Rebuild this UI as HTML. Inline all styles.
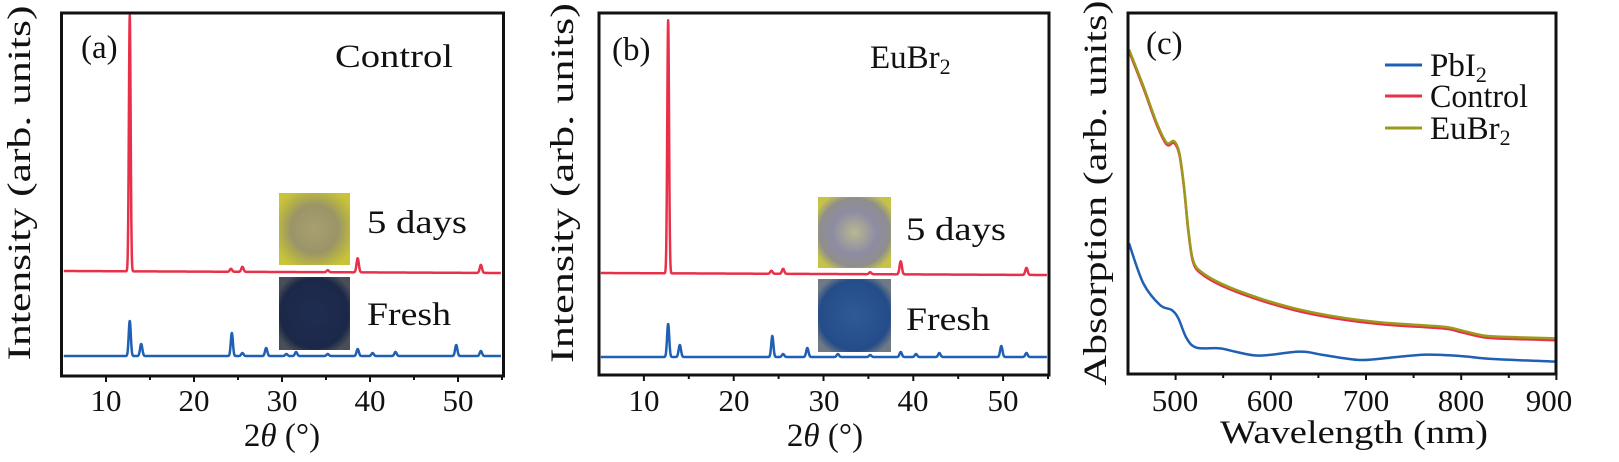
<!DOCTYPE html>
<html><head><meta charset="utf-8"><style>
html,body{margin:0;padding:0;background:#fff;}
svg{display:block;font-family:"Liberation Serif",serif;}
</style></head><body>
<svg id="s" width="1619" height="462" viewBox="0 0 1619 462" xmlns="http://www.w3.org/2000/svg">
<defs>
<radialGradient id="ga1" cx="0.5" cy="0.5" r="0.6"><stop offset="0" stop-color="#a8a070"/><stop offset="0.55" stop-color="#9a9468"/><stop offset="0.8" stop-color="#b4b048"/><stop offset="1" stop-color="#c9c338"/></radialGradient>
<radialGradient id="ga2" cx="0.5" cy="0.5" r="0.6"><stop offset="0" stop-color="#1f2d52"/><stop offset="0.8" stop-color="#1c2848"/><stop offset="1" stop-color="#4a4e58"/></radialGradient>
<radialGradient id="gb1" cx="0.5" cy="0.5" r="0.6"><stop offset="0" stop-color="#b8b890"/><stop offset="0.5" stop-color="#8e8ca4"/><stop offset="0.8" stop-color="#8f8e8c"/><stop offset="1" stop-color="#c6c24a"/></radialGradient>
<radialGradient id="gb2" cx="0.5" cy="0.5" r="0.6"><stop offset="0" stop-color="#2e5a96"/><stop offset="0.8" stop-color="#244c88"/><stop offset="1" stop-color="#707a86"/></radialGradient>
</defs>
<g id="plots"></g>
<rect x="279" y="193" width="71" height="72" fill="url(#ga1)"/>
<rect x="279" y="277" width="71" height="73" fill="url(#ga2)"/>
<rect x="818" y="197" width="73" height="71" fill="url(#gb1)"/>
<rect x="818" y="279" width="73" height="73" fill="url(#gb2)"/>
<rect x="61.5" y="13" width="442" height="363" fill="none" stroke="#111" stroke-width="3"/>
<rect x="599" y="13" width="450" height="362" fill="none" stroke="#111" stroke-width="3"/>
<rect x="1128" y="13" width="428" height="361" fill="none" stroke="#111" stroke-width="3"/>
<g id="ticks" stroke="#111" stroke-width="2"></g>
<g font-size="31" fill="#111" text-anchor="middle">
<text x="106" y="411">10</text><text x="194" y="411">20</text><text x="282" y="411">30</text><text x="370" y="411">40</text><text x="458" y="411">50</text>
<text x="644" y="411">10</text><text x="734" y="411">20</text><text x="824" y="411">30</text><text x="913" y="411">40</text><text x="1003" y="411">50</text>
<text x="1175" y="411">500</text><text x="1270" y="411">600</text><text x="1366" y="411">700</text><text x="1461" y="411">800</text><text x="1549" y="411">900</text>
</g>
<g font-size="33" fill="#111" text-anchor="middle">
<text x="282" y="446">2<tspan font-style="italic">θ</tspan> (°)</text>
<text x="825" y="446">2<tspan font-style="italic">θ</tspan> (°)</text>
<text x="1354" y="443" textLength="268" lengthAdjust="spacingAndGlyphs">Wavelength (nm)</text>
<text transform="translate(30,183) rotate(-90)" textLength="355" lengthAdjust="spacingAndGlyphs">Intensity (arb. units)</text>
<text transform="translate(573,183) rotate(-90)" textLength="360" lengthAdjust="spacingAndGlyphs">Intensity (arb. units)</text>
<text transform="translate(1106,193) rotate(-90)" textLength="385" lengthAdjust="spacingAndGlyphs">Absorption (arb. units)</text>
</g>
<g font-size="33" fill="#111">
<text x="81" y="58">(a)</text>
<text x="612" y="60">(b)</text>
<text x="1146" y="54">(c)</text>
<text x="335" y="67" textLength="118" lengthAdjust="spacingAndGlyphs">Control</text>
<text x="870" y="68">EuBr<tspan font-size="22" dy="6">2</tspan></text>
<text x="367" y="233" textLength="100" lengthAdjust="spacingAndGlyphs">5 days</text>
<text x="367" y="325" textLength="84" lengthAdjust="spacingAndGlyphs">Fresh</text>
<text x="906" y="240" textLength="100" lengthAdjust="spacingAndGlyphs">5 days</text>
<text x="906" y="330" textLength="84" lengthAdjust="spacingAndGlyphs">Fresh</text>
<text x="1430" y="76">PbI<tspan font-size="22" dy="6">2</tspan></text>
<text x="1430" y="107" textLength="98" lengthAdjust="spacingAndGlyphs">Control</text>
<text x="1430" y="139">EuBr<tspan font-size="22" dy="6">2</tspan></text>
</g>
<line x1="1385" y1="65" x2="1422" y2="65" stroke="#1f5fb4" stroke-width="3"/>
<line x1="1385" y1="96" x2="1422" y2="96" stroke="#e8304a" stroke-width="3"/>
<line x1="1385" y1="128" x2="1422" y2="128" stroke="#9a9a1c" stroke-width="3"/>
</svg>
<script>
(function(){
var NS="http://www.w3.org/2000/svg";
var plots=document.getElementById('plots'),ticks=document.getElementById('ticks');
function path(d,c,w){var p=document.createElementNS(NS,'path');p.setAttribute('d',d);p.setAttribute('fill','none');p.setAttribute('stroke',c);p.setAttribute('stroke-width',w||2.5);p.setAttribute('stroke-linejoin','round');plots.appendChild(p);}
function xrd(x0,sc,b0,b1,peaks,c){var d='';for(var t=5.2;t<=54.9;t+=0.02){var y=b0+(b1-b0)*(t-5)/50;for(var i=0;i<peaks.length;i++){var p=peaks[i];y-=p[1]*Math.exp(-Math.pow((t-p[0])/(p[2]||0.13),2)/2);}d+=(d?'L':'M')+(x0+(t-5)*sc).toFixed(2)+' '+y.toFixed(2);}path(d,c);}
var R='#e8304a',B='#1f5fb4';
xrd(62,8.8,271,273,[[12.7,256,0.1],[24.2,3],[25.5,5],[35.2,2],[38.6,14,0.13],[52.6,8]],R);
xrd(62,8.8,356,356,[[12.7,35,0.12],[14.0,12],[24.3,23,0.12],[25.5,3],[28.2,8],[30.5,2],[31.6,4],[35.2,2],[38.6,7],[40.3,3],[42.9,4],[49.8,11],[52.6,5]],B);
xrd(599,8.98,273,275,[[12.7,253,0.1],[24.2,3],[25.5,5],[35.2,2],[38.6,13,0.13],[52.6,7]],R);
xrd(599,8.98,357,357,[[12.7,33,0.12],[14.0,12],[24.3,21,0.12],[25.5,3],[28.2,9],[31.6,3],[35.2,2],[38.6,5],[40.3,3],[42.9,4],[49.8,11],[52.6,4]],B);
function tk(x,y,l){var e=document.createElementNS(NS,'line');e.setAttribute('x1',x);e.setAttribute('x2',x);e.setAttribute('y1',y);e.setAttribute('y2',y+l);ticks.appendChild(e);}
for(var t=10;t<=55;t+=5){tk(62+(t-5)*8.8,377,t%10?3:5);tk(599+(t-5)*8.98,376,t%10?3:5);}
for(var w=500;w<=900;w+=50){tk(1128+(w-450)*0.952,375,w%100?3:5);}
function smooth(pts,c,dy){var d='M'+pts[0][0]+' '+(pts[0][1]+dy);for(var i=0;i<pts.length-1;i++){var p0=pts[Math.max(0,i-1)],p1=pts[i],p2=pts[i+1],p3=pts[Math.min(pts.length-1,i+2)];var c1x=p1[0]+(p2[0]-p0[0])/6,c1y=p1[1]+(p2[1]-p0[1])/6,c2x=p2[0]-(p3[0]-p1[0])/6,c2y=p2[1]-(p3[1]-p1[1])/6;d+='C'+c1x+' '+(c1y+dy)+' '+c2x+' '+(c2y+dy)+' '+p2[0]+' '+(p2[1]+dy);}path(d,c,2.5);}
var o=1060,k=1/3;
function cv(a){return a.map(function(p){return [o+p[0]*k,p[1]*k];});}
var upper=cv([[207,150],[250,260],[290,370],[320,430],[342,425],[358,460],[372,560],[385,690],[400,785],[430,822],[500,860],[600,897],[700,926],[800,947],[900,962],[1000,972],[1150,982],[1200,992],[1250,1004],[1300,1011],[1487,1017]]);
smooth(upper,R,1.2);smooth(upper,'#9a9a1c',-0.6);
var bl=cv([[207,730],[250,850],[300,915],[335,930],[355,955],[380,1015],[410,1043],[480,1045],[530,1056],[600,1067],[720,1055],[790,1065],[900,1080],[1000,1072],[1100,1064],[1200,1068],[1300,1077],[1487,1085]]);
smooth(bl,B,0);
})();
</script>
</body></html>
